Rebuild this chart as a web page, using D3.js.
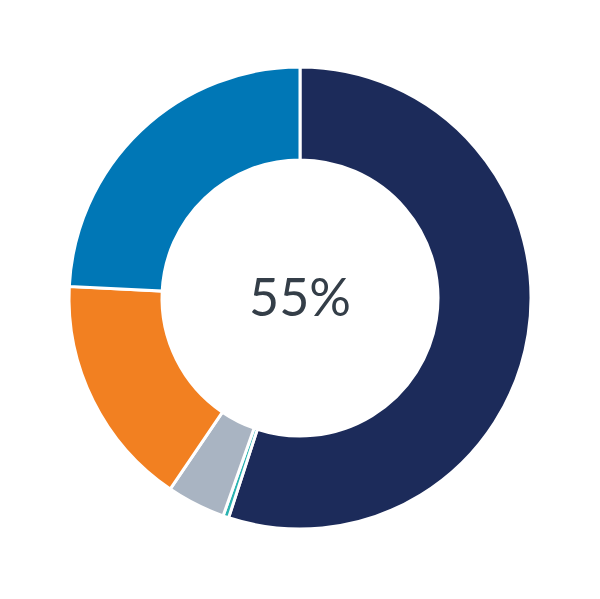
<!DOCTYPE html>
<html>
<head>
<meta charset="utf-8">
<script src="https://cdn.jsdelivr.net/npm/d3@7"></script>
<style>
  body { margin: 0; background: #fff; }
</style>
</head>
<body>
<svg id="chart" width="600" height="599"></svg>
<script>
// slices, clockwise from 12 o'clock
var labels = ["Navy", "Teal", "Gray", "Orange", "Blue"];
var values = [55, 0.4, 4.1, 16.3, 24.2];
var colors = ["#1c2b5a", "#2ab3b1", "#a9b4c2", "#f28021", "#0077b6"];
var centerLabel = "55%";

var svg = d3.select("#chart");

var g = svg.append("g")
    .attr("transform", "translate(300,298)");

var pie = d3.pie().sort(null).value(function(d) { return d; });

var arc = d3.arc()
    .innerRadius(138)
    .outerRadius(231);

g.selectAll("path")
    .data(pie(values))
    .enter()
    .append("path")
    .attr("d", arc)
    .style("fill", function(d, i) { return colors[i]; })
    .attr("stroke", "#fff")
    .attr("stroke-width", 3);

g.append("text")
    .attr("x", 0)
    .attr("y", 18)
    .attr("text-anchor", "middle")
    .text(centerLabel)
    .attr("font-family", "Lato, sans-serif")
    .attr("font-size", "52px")
    .attr("fill", "#343e48");
</script>
</body>
</html>
